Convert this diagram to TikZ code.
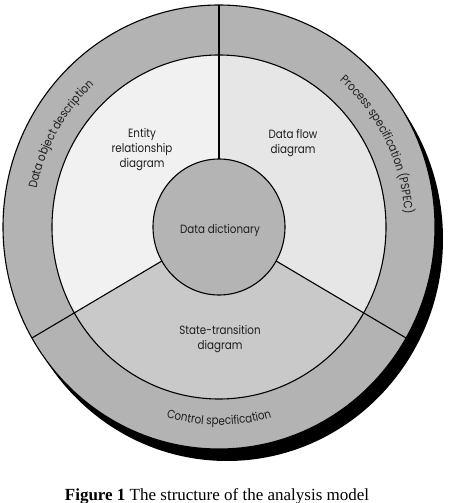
\documentclass[tikz,border=0pt]{standalone}
\usepackage{fontspec}
\setmainfont{Liberation Serif}
\newfontfamily\fut[FakeStretch=0.86]{Poppins}
\usetikzlibrary{decorations.text}
\definecolor{ringgray}{HTML}{B3B3B3}
\definecolor{leftfill}{HTML}{F1F1F1}
\definecolor{rightfill}{HTML}{E6E6E6}
\definecolor{bottomfill}{HTML}{C9C9C9}
\definecolor{centergray}{HTML}{B4B4B4}
\definecolor{txt}{HTML}{1E1E1E}
\tikzset{
  lbl/.style={align=center, text=txt, font=\fut\fontsize{12}{15}\selectfont, inner sep=0pt},
  ringtext/.style={decorate, decoration={text along path, text align=center, text color=txt,
     text={|\fut\fontsize{12}{14}\selectfont|#1}}},
  edge/.style={draw=black, line width=1.1pt}
}
\begin{document}
\begin{tikzpicture}[x=1pt,y=1pt]
\useasboundingbox (-219,-276) rectangle (232,227);
% shadow
\fill[black] (8,-12) ellipse[x radius=216, y radius=222];
% outer ring
\filldraw[fill=ringgray, edge] (0,0) ellipse[x radius=216, y radius=222];
% sectors
\fill[leftfill] (0,0) -- (90:167 and 172) arc[start angle=90, end angle=210, x radius=167, y radius=172] -- cycle;
\fill[rightfill] (0,0) -- (-30:167 and 172) arc[start angle=-30, end angle=90, x radius=167, y radius=172] -- cycle;
\fill[bottomfill] (0,0) -- (210:167 and 172) arc[start angle=210, end angle=330, x radius=167, y radius=172] -- cycle;
\draw[edge] (0,0) ellipse[x radius=167, y radius=172];
% dividers
\draw[edge] (90:66 and 68) -- (90:216 and 222);
\draw[edge] (210:66 and 68) -- (210:216 and 222);
\draw[edge] (330:66 and 68) -- (330:216 and 222);
% center
\filldraw[fill=centergray, edge] (0,0) ellipse[x radius=66, y radius=68];
% labels
\node[lbl] (erd) at (-77,77) {Entity\\relationship\\diagram};
\node[lbl] (dfd) at (74,84) {Data flow\\diagram};
\node[lbl] (dd) at (1,-3) {Data dictionary};
\node[lbl] (std) at (1,-112) {State-transition\\diagram};
% ring texts
\path[ringtext={Data object description}] (200:186 and 192) arc[start angle=200, end angle=100, x radius=186, y radius=192];
\path[ringtext={Process specification (PSPEC)}] (77:186 and 192) arc[start angle=77, end angle=-23, x radius=186, y radius=192];
\path[ringtext={Control specification}] (220:192 and 198) arc[start angle=220, end angle=320, x radius=192, y radius=198];
% caption
\node[anchor=base, font=\fontsize{17}{20}\selectfont, inner sep=0pt] (cap) at (-2,-273) {\textbf{Figure 1} The structure of the analysis model};
\end{tikzpicture}
\end{document}
